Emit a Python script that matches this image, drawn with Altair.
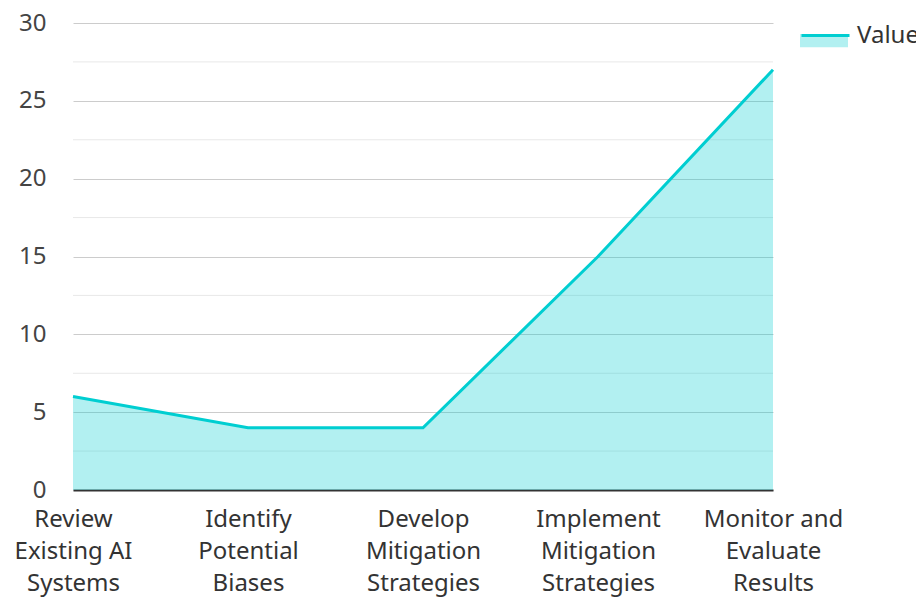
import altair as alt
import pandas as pd

categories = [
    "Review|Existing AI|Systems",
    "Identify|Potential|Biases",
    "Develop|Mitigation|Strategies",
    "Implement|Mitigation|Strategies",
    "Monitor and|Evaluate|Results",
]
values = [6, 4, 4, 15, 27]
series_name = "Value"
major_ticks = [0, 5, 10, 15, 20, 25, 30]
minor_ticks = [2.5, 7.5, 12.5, 17.5, 22.5, 27.5]

TEAL = "#00CED1"
FONT = "Noto Sans"

df = pd.DataFrame({
    "step": categories,
    "value": values,
    "fill_series": [series_name] * len(values),
    "line_series": [series_name] * len(values),
})
minor_df = pd.DataFrame({"value": minor_ticks})

x_enc = alt.X(
    "step:N",
    sort=categories,
    scale=alt.Scale(type="point", padding=0),
    axis=alt.Axis(
        title=None, labelAngle=0, labelExpr="split(datum.label, '|')",
        labelFontSize=24, labelLineHeight=32, labelColor="#333",
        labelPadding=17, ticks=False, domainColor="#333", domainWidth=2,
        grid=False, labelBaseline="top", labelFont=FONT,
    ),
)
y_axis = alt.Axis(
    title=None, values=major_ticks, grid=True, gridColor="#cccccc",
    domain=False, ticks=False, labelPadding=27, labelFontSize=24,
    labelColor="#444", labelFont=FONT,
)
y_enc = alt.Y("value:Q", scale=alt.Scale(domain=[0, 30], nice=False), axis=y_axis)

minor = alt.Chart(minor_df).mark_rule(color="#e8e8e8", strokeWidth=1).encode(
    y=alt.Y("value:Q", scale=alt.Scale(domain=[0, 30], nice=False), axis=y_axis)
)

area = alt.Chart(df).mark_area(fillOpacity=0.3).encode(
    x=x_enc,
    y=y_enc,
    fill=alt.Fill(
        "fill_series:N",
        scale=alt.Scale(range=[TEAL]),
        legend=alt.Legend(
            title=None, orient="none", legendX=727, legendY=-13,
            symbolType="M-1,0H1V0.55H-1Z", symbolSize=2304,
            symbolOpacity=0.3, symbolStrokeWidth=0,
            labelOpacity=0, labelFontSize=24, labelOffset=6, labelFont=FONT,
        ),
    ),
)

line = alt.Chart(df).mark_line(strokeWidth=3).encode(
    x=x_enc,
    y=y_enc,
    stroke=alt.Stroke(
        "line_series:N",
        scale=alt.Scale(range=[TEAL]),
        legend=alt.Legend(
            title=None, orient="none", legendX=727, legendY=-13,
            symbolType="stroke", symbolSize=2304, symbolStrokeWidth=3,
            labelFontSize=24, labelOffset=6, labelColor="#333", labelFont=FONT,
        ),
    ),
)

chart = alt.layer(minor, area, line).resolve_scale(
    fill="independent", stroke="independent"
).properties(
    width=700, height=467,
    padding={"left": 65, "top": 15, "right": 143, "bottom": 107},
    autosize="none",
).configure(font=FONT).configure_view(stroke=None)

chart.save("out.html", embed_options={"renderer": "svg", "actions": False})
